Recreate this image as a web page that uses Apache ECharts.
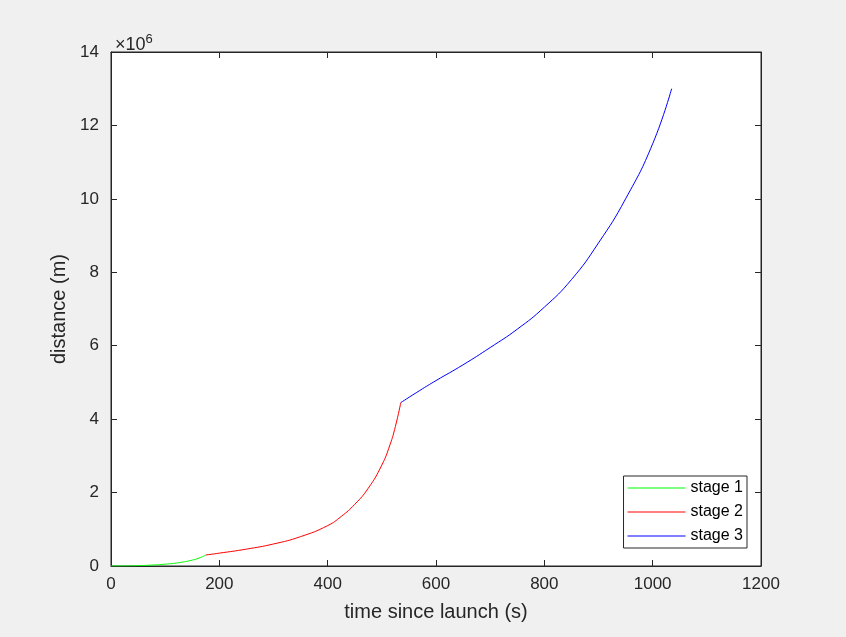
<!DOCTYPE html><html><head><meta charset="utf-8"><script src="https://cdn.jsdelivr.net/npm/echarts@6/dist/echarts.min.js"></script>
<style>html,body{margin:0;background:#f0f0f0}#c{width:846px;height:637px}</style></head><body><div id="c"></div><script>
const stage1=[[0,0],[25,0.002],[50,0.01],[75,0.025],[100,0.05],[125,0.09],[150,0.16],[165,0.23],[175,0.3]];
const stage2=[[175,0.3],[200,0.35],[250,0.46],[300,0.6],[350,0.8],[400,1.1],[425,1.35],[450,1.68],[475,2.12],[500,2.75],[515,3.3],[525,3.8],[535,4.45]];
const stage3=[[535,4.45],[570,4.78],[600,5.05],[650,5.48],[700,5.95],[750,6.45],[800,7.05],[850,7.8],[900,8.8],[950,10.0],[1000,11.5],[1035,13.0]];
const names=['stage 1','stage 2','stage 3'];
const colors=['#00ff00','#ff0000','#0000ff'];
const font='Liberation Sans, Arial, sans-serif';
const ax={axisLine:{show:true,onZero:false,lineStyle:{color:'#262626'}},axisTick:{inside:true,length:6,lineStyle:{color:'#262626'}},splitLine:{show:false}};
const fmt=v=>String(v);
const c=echarts.init(document.getElementById('c'));
c.setOption({animation:false,backgroundColor:'#f0f0f0',
grid:{left:111,top:52,width:650,height:514,backgroundColor:'#fff',show:true,borderColor:'#262626',borderWidth:1},
title:{text:'×10{s|6}',left:110,top:28,textStyle:{fontFamily:font,fontSize:18,fontWeight:'normal',color:'#262626',rich:{s:{fontSize:13,verticalAlign:'top',padding:[0,0,12,0],color:'#262626'}}}},
legend:{data:names.map((n,i)=>({name:n,icon:'rect',itemStyle:{color:colors[i]}})),orient:'vertical',right:99,bottom:89,itemWidth:58,itemHeight:1,itemGap:8,backgroundColor:'#fff',borderColor:'#262626',borderWidth:1,padding:[4,4,4,4],borderRadius:0,textStyle:{fontFamily:font,fontSize:16,color:'#000'}},
xAxis:[{type:'value',min:0,max:1200,interval:200,name:'time since launch (s)',nameLocation:'middle',nameGap:36,nameTextStyle:{fontFamily:font,fontSize:20,color:'#262626'},axisLabel:{formatter:fmt,fontFamily:font,fontSize:17,color:'#262626',margin:10},...ax},
{type:'value',position:'top',min:0,max:1200,interval:200,axisLabel:{show:false},...ax}],
yAxis:[{type:'value',min:0,max:14,interval:2,name:'distance (m)',nameLocation:'middle',nameGap:40,nameTextStyle:{fontFamily:font,fontSize:20,color:'#262626'},axisLabel:{formatter:fmt,fontFamily:font,fontSize:17,color:'#262626',margin:12},...ax},
{type:'value',position:'right',min:0,max:14,interval:2,axisLabel:{show:false},...ax}],
series:[stage1,stage2,stage3].map((d,i)=>({name:names[i],type:'line',data:d,smooth:true,showSymbol:false,lineStyle:{color:colors[i],width:1},itemStyle:{color:colors[i]}}))
});
</script></body></html>
